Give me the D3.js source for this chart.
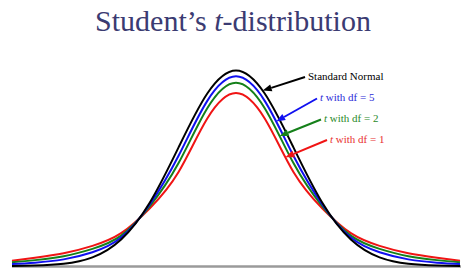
<!DOCTYPE html>
<html>
<head>
<meta charset="utf-8">
<script src="https://cdn.jsdelivr.net/npm/d3@7"></script>
<style>
  body { margin: 0; background: #fff; }
  svg { display: block; }
</style>
</head>
<body>
<script>
// values (x in t units, y as density)
const tValues = [-3.9, -3.5, -3, -2.5, -2, -1.5, -1, -0.5, 0, 0.5, 1, 1.5, 2, 2.5, 3, 3.5, 3.9];
const normalValues = [0.0002, 0.0009, 0.0044, 0.0175, 0.054, 0.1295, 0.242, 0.352, 0.399, 0.352, 0.242, 0.1295, 0.054, 0.0175, 0.0044, 0.0009, 0.0002];
const df5Values = [0.0041, 0.0068, 0.0135, 0.028, 0.058, 0.126, 0.225, 0.337, 0.387, 0.337, 0.225, 0.126, 0.058, 0.028, 0.0135, 0.0068, 0.0041];
const df2Values = [0.0076, 0.012, 0.020, 0.035, 0.062, 0.122, 0.210, 0.322, 0.374, 0.322, 0.210, 0.122, 0.062, 0.035, 0.020, 0.012, 0.0076];
const df1Values = [0.0108, 0.017, 0.026, 0.041, 0.067, 0.118, 0.192, 0.301, 0.353, 0.301, 0.192, 0.118, 0.067, 0.041, 0.026, 0.017, 0.0108];

const seriesItalic = ['', 't', 't', 't'];
const seriesText = ['Standard Normal', ' with df = 5', ' with df = 2', ' with df = 1'];
// where each arrow hits its curve (t units)
const arrowTipT = [0.465, 0.70, 0.76, 0.86];

const width = 474;
const height = 280;

const series = [
    { values: normalValues, color: '#000000', text: '#000000' },
    { values: df5Values, color: '#1010f0', text: '#2a2ad8' },
    { values: df2Values, color: '#15801a', text: '#2a8a2a' },
    { values: df1Values, color: '#f01414', text: '#e83030' }
];

// label layout: text start and baseline, arrow tail
const labelPos = [
    { x: 308, y: 80, tx: 305, ty: 77 },
    { x: 320, y: 101, tx: 317, ty: 98.5 },
    { x: 324, y: 122, tx: 321, ty: 119.5 },
    { x: 330, y: 143, tx: 327, ty: 140 }
];

const xScale = d3.scaleLinear().domain([-3.9, 3.9]).range([12, 460]);
const yScale = d3.scaleLinear().domain([0, 0.4]).range([266, 70]);

const svg = d3.select('body').append('svg')
    .attr('width', width)
    .attr('height', height);

// title
const title = svg.append('text')
    .attr('x', 233)
    .attr('y', 31)
    .attr('text-anchor', 'middle')
    .style('font-family', '"Liberation Serif", "Times New Roman", serif')
    .style('font-size', '30px')
    .style('fill', '#3b3b72');
title.append('tspan').text('Student\u2019s ');
title.append('tspan').style('font-style', 'italic').text('t');
title.append('tspan').text('-distribution');

// baseline
svg.append('line')
    .attr('x1', xScale(-3.9)).attr('x2', xScale(3.9) + 1)
    .attr('y1', yScale(0) + 0.5).attr('y2', yScale(0) + 0.5)
    .attr('stroke', '#9a9a9a')
    .attr('stroke-width', 2.5);

const line = d3.line()
    .x((d, i) => xScale(tValues[i]))
    .y(d => yScale(d))
    .curve(d3.curveNatural);

// curves, drawn back to front
const paths = [];
for (let k = series.length - 1; k >= 0; k--) {
    paths[k] = svg.append('path')
        .attr('d', line(series[k].values))
        .attr('fill', 'none')
        .attr('stroke', series[k].color)
        .attr('stroke-width', 2);
}

// finds the y of a drawn curve at a given x
function yOnPath(node, x) {
    let lo = 0, hi = node.getTotalLength();
    for (let n = 0; n < 40; n++) {
        const mid = (lo + hi) / 2;
        if (node.getPointAtLength(mid).x < x) lo = mid; else hi = mid;
    }
    return node.getPointAtLength(lo).y;
}

// labels and arrows
series.forEach((s, k) => {
    const p = labelPos[k];
    const tipX = xScale(arrowTipT[k]);
    const tipY = yOnPath(paths[k].node(), tipX);

    const dx = tipX - p.tx, dy = tipY - p.ty;
    const len = Math.sqrt(dx * dx + dy * dy);
    const ux = dx / len, uy = dy / len;
    const headLen = 9, headW = 3.5;
    const bx = tipX - ux * headLen, by = tipY - uy * headLen;

    svg.append('line')
        .attr('x1', p.tx).attr('y1', p.ty)
        .attr('x2', bx).attr('y2', by)
        .attr('stroke', s.color)
        .attr('stroke-width', 2);
    svg.append('polygon')
        .attr('points', [
            [tipX, tipY],
            [bx - uy * headW, by + ux * headW],
            [bx + uy * headW, by - ux * headW]
        ].map(q => q.join(',')).join(' '))
        .attr('fill', s.color);

    const txt = svg.append('text')
        .attr('x', p.x)
        .attr('y', p.y)
        .style('font-family', '"Liberation Serif", "Times New Roman", serif')
        .style('font-size', '11px')
        .style('fill', s.text);
    if (seriesItalic[k]) txt.append('tspan').style('font-style', 'italic').text(seriesItalic[k]);
    txt.append('tspan').text(seriesText[k]);
});
</script>
</body>
</html>
